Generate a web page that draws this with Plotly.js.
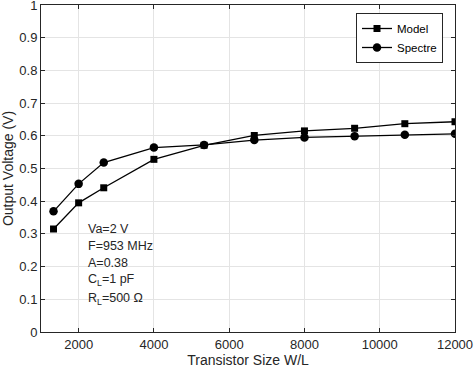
<!DOCTYPE html>
<html><head><meta charset="utf-8">
<script src="https://cdn.plot.ly/plotly-3.0.1.min.js"></script>
<style>html,body{margin:0;padding:0;background:#fff}#chart{width:474px;height:370px}</style>
</head><body><div id="chart"></div>
<script>
const sizes = [1333, 2000, 2667, 4000, 5333, 6667, 8000, 9333, 10667, 12000];
const modelV = [0.315, 0.395, 0.441, 0.528, 0.571, 0.601, 0.615, 0.623, 0.637, 0.643];
const spectreV = [0.369, 0.453, 0.518, 0.564, 0.572, 0.587, 0.595, 0.599, 0.603, 0.606];
const xTicks = [2000, 4000, 6000, 8000, 10000, 12000];
const yTicks = [0, 0.1, 0.2, 0.3, 0.4, 0.5, 0.6, 0.7, 0.8, 0.9, 1];
const yTickText = ['0', '0.1', '0.2', '0.3', '0.4', '0.5', '0.6', '0.7', '0.8', '0.9', '1'];
const noteLines = ['Va=2 V', 'F=953 MHz', 'A=0.38', 'C<sub>L</sub>=1 pF', 'R<sub>L</sub>=500 Ω'];

const font = 'Liberation Sans, Arial, sans-serif';
const traces = [
  {x: sizes, y: modelV, name: 'Model', mode: 'lines+markers',
   line: {color: '#000', width: 1.3}, marker: {symbol: 'square', size: 7, color: '#000'}},
  {x: sizes, y: spectreV, name: 'Spectre', mode: 'lines+markers',
   line: {color: '#000', width: 1.3}, marker: {symbol: 'circle', size: 8.5, color: '#000'}}
];
const noteY = [229, 246, 263, 280, 299];
const annotations = noteLines.map((t, i) => ({
  text: t, xref: 'paper', yref: 'paper', x: (86 - 41) / 414, xanchor: 'left',
  y: 1 - (noteY[i] - 5) / 327, yanchor: 'middle', showarrow: false,
  font: {family: font, size: 12.5, color: '#262626'}
}));
const axisCommon = {
  showline: true, linecolor: '#262626', linewidth: 1, mirror: 'ticks',
  ticks: 'inside', ticklen: 4, tickcolor: '#262626',
  showgrid: true, gridcolor: '#e4e4e4', gridwidth: 1, zeroline: false,
  ticklabeloverflow: 'allow',
  tickfont: {family: font, size: 13, color: '#262626'}
};
const layout = {
  width: 474, height: 370,
  margin: {l: 41, r: 19, t: 5, b: 38},
  paper_bgcolor: '#fff', plot_bgcolor: '#fff',
  showlegend: true,
  legend: {x: (443 - 41) / 414, xanchor: 'right', y: 1 - (13 - 5) / 327, yanchor: 'top',
    bordercolor: '#262626', borderwidth: 1, bgcolor: '#fff',
    font: {family: font, size: 11.5, color: '#000'}, tracegroupgap: 0, itemwidth: 30},
  xaxis: Object.assign({}, axisCommon, {range: [1000, 12000], tickvals: xTicks, tickformat: 'd',
    title: {text: 'Transistor Size W/L', font: {family: font, size: 14, color: '#262626'}, standoff: 4}}),
  yaxis: Object.assign({}, axisCommon, {range: [0, 1], tickvals: yTicks, ticktext: yTickText,
    title: {text: 'Output Voltage (V)', font: {family: font, size: 14, color: '#262626'}, standoff: 6}}),
  annotations: annotations
};
Plotly.newPlot('chart', traces, layout, {displayModeBar: false, staticPlot: true});
</script>
</body></html>
